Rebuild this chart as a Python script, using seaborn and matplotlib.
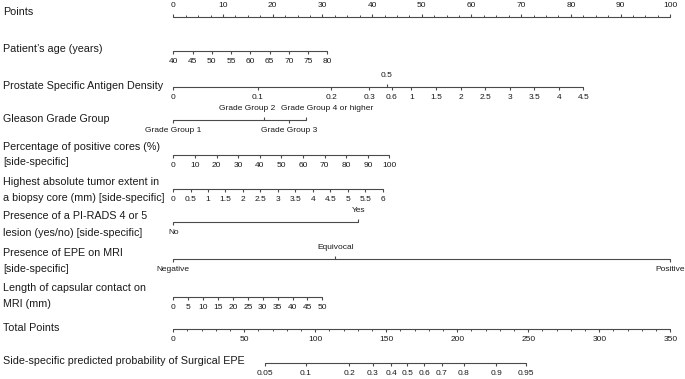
import numpy as np
import pandas as pd
import matplotlib
matplotlib.use("Agg")
import matplotlib.pyplot as plt
import seaborn as sns

# ---------------- data ----------------
points_values = [0, 10, 20, 30, 40, 50, 60, 70, 80, 90, 100]
points_minor = [2.5 * i for i in range(41)]

age_values = [40, 45, 50, 55, 60, 65, 70, 75, 80]
age_points = [0, 3.9, 7.75, 11.6, 15.5, 19.4, 23.25, 27.1, 31.0]

psad_labels = ["0", "0.1", "0.2", "0.3", "0.5", "0.6", "1", "1.5", "2", "2.5", "3", "3.5", "4", "4.5"]
psad_points = [0, 17.0, 31.8, 39.4, 43.0, 44.0, 47.9, 52.9, 57.8, 62.8, 67.7, 72.6, 77.6, 82.5]
psad_above = ["0.5"]

gleason_labels = ["Grade Group 1", "Grade Group 2", "Grade Group 3", "Grade Group 4 or higher"]
gleason_points = [0, 18.2, 23.3, 26.8]
gleason_above = ["Grade Group 2", "Grade Group 4 or higher"]

cores_values = [0, 10, 20, 30, 40, 50, 60, 70, 80, 90, 100]
cores_points = [0, 4.35, 8.7, 13.05, 17.4, 21.75, 26.1, 30.45, 34.8, 39.15, 43.5]

tumor_labels = ["0", "0.5", "1", "1.5", "2", "2.5", "3", "3.5", "4", "4.5", "5", "5.5", "6"]
tumor_points = [0, 3.5, 7.0, 10.5, 14.0, 17.5, 21.05, 24.55, 28.05, 31.6, 35.1, 38.6, 42.1]

pirads_labels = ["No", "Yes"]
pirads_points = [0, 37.2]
pirads_above = ["Yes"]

epe_labels = ["Negative", "Equivocal", "Positive"]
epe_points = [0, 32.6, 100]
epe_above = ["Equivocal"]

capsular_values = [0, 5, 10, 15, 20, 25, 30, 35, 40, 45, 50]
capsular_points = [0, 3, 6, 9, 12, 15, 18, 21, 24, 27, 30]

total_values = [0, 50, 100, 150, 200, 250, 300, 350]
total_minor = [10 * i for i in range(36)]
total_max = 350

prob_labels = ["0.05", "0.1", "0.2", "0.3", "0.4", "0.5", "0.6", "0.7", "0.8", "0.9", "0.95"]
prob_total = [64.4, 93.2, 124.0, 140.3, 153.5, 164.9, 176.6, 188.9, 204.6, 227.3, 248.2]

# ---------------- layout ----------------
W, H = 685, 379
X0, X100 = 173.3, 670.3           # pixel x of 0 and 100 points
ppx = (X100 - X0) / 100.0

sns.set_theme(style="white")
plt.rcParams["font.family"] = ["Liberation Sans", "DejaVu Sans"]

fig = plt.figure(figsize=(W / 100, H / 100), dpi=100)
ax = fig.add_axes([0, 0, 1, 1])

LINE_C = "#4a4a4a"
TXT_C = "#1a1a1a"
TICK_FS = 6.0
TITLE_FS = 7.75
TITLE_X = 3 / ppx - X0 / ppx

# label shifts (px) where the reference moves labels apart to avoid overlap
label_shift = {"Grade Group 2": -16.5, "Grade Group 4 or higher": 21.0}

rows = []  # (titles, title_ys, line_y, labels, pts, above_set, minor)
rows.append((["Points"], [12], 17, [str(v) for v in points_values], points_values,
             set(str(v) for v in points_values), points_minor))
rows.append((["Patient\u2019s age (years)"], [49], 51, [str(v) for v in age_values], age_points, set(), None))
rows.append((["Prostate Specific Antigen Density"], [86], 87, psad_labels, psad_points, set(psad_above), None))
rows.append((["Gleason Grade Group"], [119], 120, gleason_labels, gleason_points, set(gleason_above), None))
rows.append((["Percentage of positive cores (%)", "[side-specific]"], [147, 162], 155,
             [str(v) for v in cores_values], cores_points, set(), None))
rows.append((["Highest absolute tumor extent in", "a biopsy core (mm) [side-specific]"], [182, 198], 189,
             tumor_labels, tumor_points, set(), None))
rows.append((["Presence of a PI-RADS 4 or 5", "lesion (yes/no) [side-specific]"], [216, 233], 222,
             pirads_labels, pirads_points, set(pirads_above), None))
rows.append((["Presence of EPE on MRI", "[side-specific]"], [253, 269], 259,
             epe_labels, epe_points, set(epe_above), None))
rows.append((["Length of capsular contact on", "MRI (mm)"], [288, 304], 297,
             [str(v) for v in capsular_values], capsular_points, set(), None))
rows.append((["Total Points"], [328], 329, [str(v) for v in total_values],
             [v * 100 / total_max for v in total_values], set(), [v * 100 / total_max for v in total_minor]))
rows.append((["Side-specific predicted probability of Surgical EPE"], [361], 363, prob_labels,
             [v * 100 / total_max for v in prob_total], set(), None))

# main axis lines through seaborn
seg = []
for i, r in enumerate(rows):
    pts = r[4]
    seg.append({"row": i, "x": min(pts), "y": r[2]})
    seg.append({"row": i, "x": max(pts), "y": r[2]})
seg = pd.DataFrame(seg)
sns.lineplot(data=seg, x="x", y="y", units="row", estimator=None, sort=False,
             color=LINE_C, linewidth=0.8, ax=ax, legend=False)
ax.set_xlim(-X0 / ppx, (W - X0) / ppx)
ax.set_ylim(H, 0)
ax.axis("off")

TL = 3.2   # tick length (px)
LD = 10.5  # label offset (px)
for titles, tys, ly, labels, pts, above, minor in rows:
    for t, ty in zip(titles, tys):
        ax.text(TITLE_X, ty, t, fontsize=TITLE_FS, color=TXT_C, ha="left", va="center")
    if minor is not None:
        up = labels[0] in above
        for m in minor:
            ax.plot([m, m], [ly, ly - 2.2 if up else ly + 2.2], color=LINE_C, lw=0.7,
                    solid_capstyle="butt")
    for lab, p in zip(labels, pts):
        up = lab in above
        ax.plot([p, p], [ly, ly - TL if up else ly + TL], color=LINE_C, lw=0.8,
                solid_capstyle="butt")
        lx = p + label_shift.get(lab, 0.0) / ppx
        ax.text(lx, ly - LD - 1 if up else ly + LD, lab, fontsize=TICK_FS, color=TXT_C,
                ha="center", va="center")

fig.savefig("out.png", dpi=100)
